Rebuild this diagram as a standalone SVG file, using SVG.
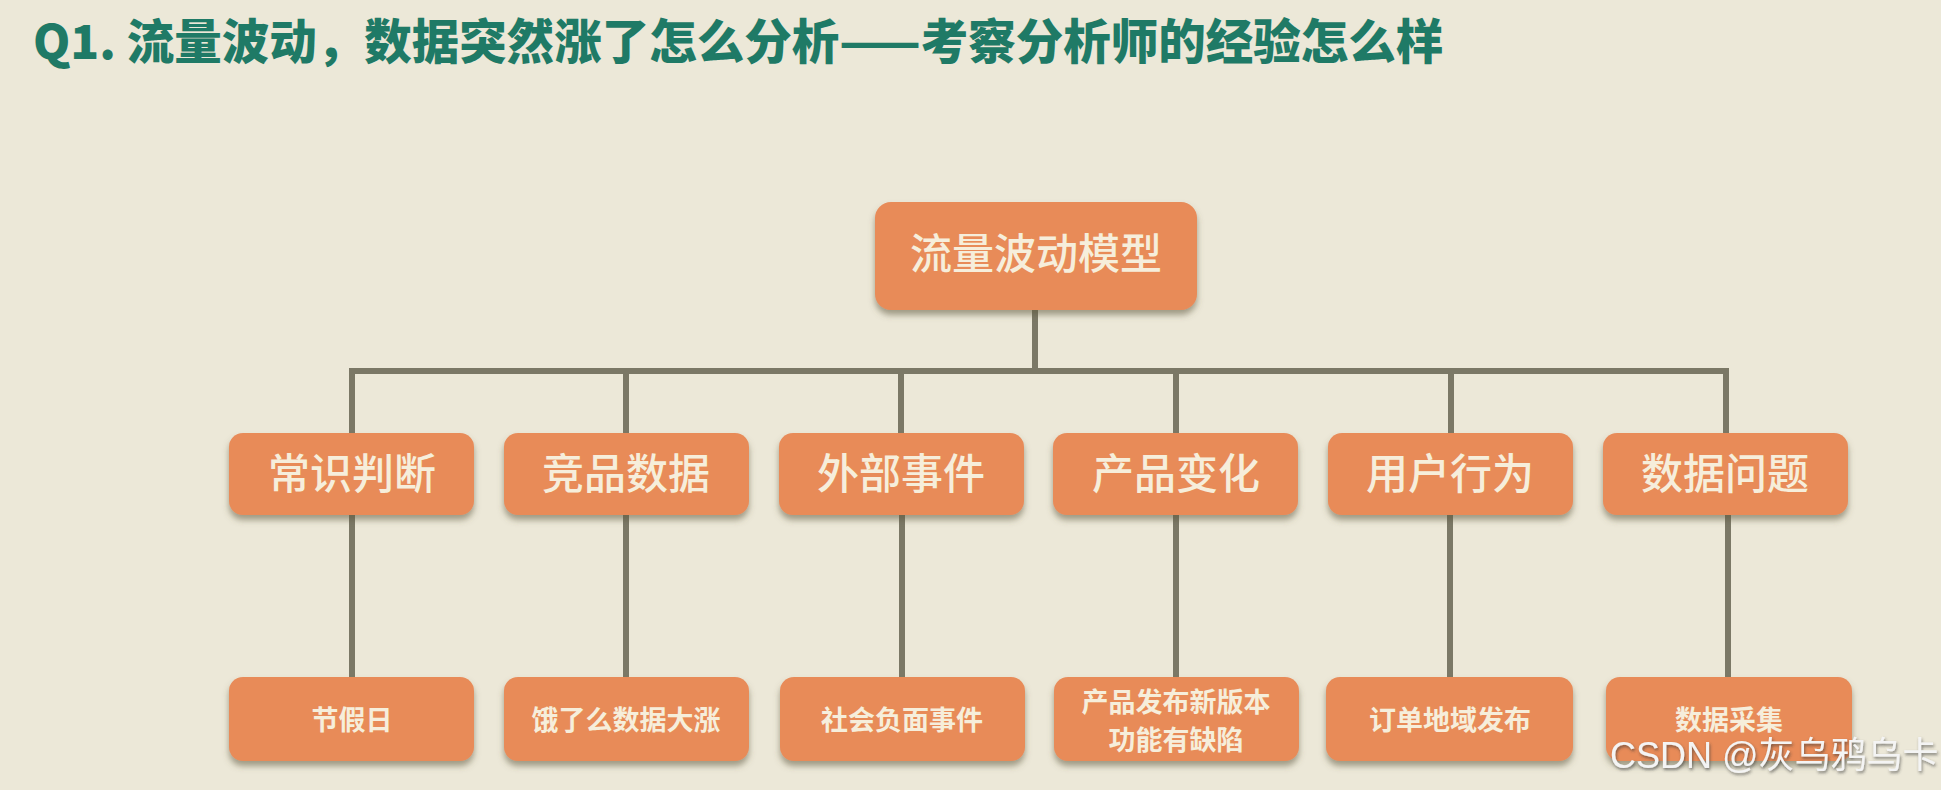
<svg xmlns="http://www.w3.org/2000/svg" width="1941" height="790" viewBox="0 0 1941 790">
<defs>
<filter id="sh" x="-10%" y="-20%" width="120%" height="150%">
<feDropShadow dx="0" dy="5" stdDeviation="3" flood-color="#5e583e" flood-opacity="0.55"/>
</filter>
<filter id="wm" x="-5%" y="-30%" width="110%" height="160%">
<feDropShadow dx="1" dy="2" stdDeviation="1.5" flood-color="#333333" flood-opacity="0.6"/>
</filter>
<style>
.box{fill:#e88b59;filter:url(#sh);}
.t1{font-family:"Noto Sans CJK SC","Noto Sans",sans-serif;font-size:42px;font-weight:500;fill:#f6eedb;text-anchor:middle;}
.t3{font-family:"Noto Sans CJK SC","Noto Sans",sans-serif;font-size:27px;font-weight:bold;fill:#f6eedb;text-anchor:middle;}
.ln{stroke:#7b7866;stroke-width:6;fill:none;}
.title{font-family:"Noto Sans CJK SC","Noto Sans",sans-serif;font-size:47.5px;font-weight:900;fill:#1f7a66;}
</style>
</defs>
<rect x="0" y="0" width="1941" height="790" fill="#ece8d8"/>
<text class="title" x="33" y="59">Q1. 流量波动，数据突然涨了怎么分析——考察分析师的经验怎么样</text>

<g id="connectors">
<path class="ln" d="M1035 310 V371"/>
<path class="ln" d="M352 371 H1726"/>
<path class="ln" d="M352 368 V433 M626 371 V433 M901 371 V433 M1176 371 V433 M1451 371 V433 M1726 368 V433"/>
<path class="ln" d="M352 515 V677 M626 515 V677 M902 515 V677 M1176 515 V677 M1450 515 V677 M1728 515 V677"/>
</g>

<g id="root">
<rect class="box" x="875" y="202" width="322" height="108" rx="16"/>
<text class="t1" x="1036" y="269">流量波动模型</text>
</g>

<g id="n-changshi">
<rect class="box" x="229" y="433" width="245" height="82" rx="14"/>
<text class="t1" x="352" y="489">常识判断</text>
</g>
<g id="n-jingpin">
<rect class="box" x="504" y="433" width="245" height="82" rx="14"/>
<text class="t1" x="626" y="489">竞品数据</text>
</g>
<g id="n-waibu">
<rect class="box" x="779" y="433" width="245" height="82" rx="14"/>
<text class="t1" x="901" y="489">外部事件</text>
</g>
<g id="n-chanpin">
<rect class="box" x="1053" y="433" width="245" height="82" rx="14"/>
<text class="t1" x="1176" y="489">产品变化</text>
</g>
<g id="n-yonghu">
<rect class="box" x="1328" y="433" width="245" height="82" rx="14"/>
<text class="t1" x="1450" y="489">用户行为</text>
</g>
<g id="n-shuju">
<rect class="box" x="1603" y="433" width="245" height="82" rx="14"/>
<text class="t1" x="1725" y="489">数据问题</text>
</g>

<g id="l-jiajiari">
<rect class="box" x="229" y="677" width="245" height="84" rx="14"/>
<text class="t3" x="352" y="730">节假日</text>
</g>
<g id="l-eleme">
<rect class="box" x="504" y="677" width="245" height="84" rx="14"/>
<text class="t3" x="626" y="730">饿了么数据大涨</text>
</g>
<g id="l-shehui">
<rect class="box" x="780" y="677" width="245" height="84" rx="14"/>
<text class="t3" x="902" y="730">社会负面事件</text>
</g>
<g id="l-fabu">
<rect class="box" x="1054" y="677" width="245" height="84" rx="14"/>
<text class="t3" x="1176" y="712" font-size="26">产品发布新版本</text>
<text class="t3" x="1176" y="750" font-size="26">功能有缺陷</text>
</g>
<g id="l-dingdan">
<rect class="box" x="1326" y="677" width="247" height="84" rx="14"/>
<text class="t3" x="1450" y="730">订单地域发布</text>
</g>
<g id="l-caiji">
<rect class="box" x="1606" y="677" width="246" height="84" rx="14"/>
<text class="t3" x="1729" y="730">数据采集</text>
</g>

<text x="1610" y="768" font-family="Liberation Sans, Noto Sans CJK SC, sans-serif" font-size="36" fill="#f4f4f4" filter="url(#wm)">CSDN @灰乌鸦乌卡</text>
</svg>
